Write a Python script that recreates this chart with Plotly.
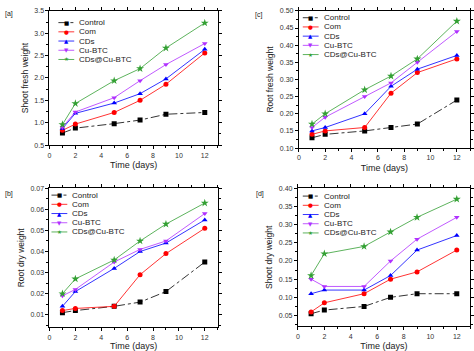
import plotly.graph_objects as go

days = [1, 2, 5, 7, 9, 12]
series_names = ["Control", "Com", "CDs", "Cu-BTC", "CDs@Cu-BTC"]

# [a] Shoot fresh weight
shoot_fresh = [
    [0.77, 0.88, 0.98, 1.06, 1.19, 1.23],
    [0.83, 0.97, 1.23, 1.50, 1.86, 2.56],
    [0.87, 1.21, 1.44, 1.65, 1.98, 2.64],
    [0.90, 1.24, 1.56, 1.94, 2.30, 2.77],
    [0.96, 1.43, 1.94, 2.21, 2.67, 3.23],
]
# [c] Root fresh weight
root_fresh = [
    [0.13, 0.14, 0.15, 0.16, 0.17, 0.24],
    [0.14, 0.15, 0.16, 0.26, 0.32, 0.36],
    [0.15, 0.16, 0.20, 0.28, 0.33, 0.37],
    [0.16, 0.19, 0.25, 0.29, 0.35, 0.44],
    [0.17, 0.20, 0.27, 0.31, 0.36, 0.47],
]
# [b] Root dry weight
root_dry = [
    [0.011, 0.012, 0.014, 0.016, 0.021, 0.035],
    [0.012, 0.013, 0.014, 0.029, 0.039, 0.051],
    [0.014, 0.021, 0.032, 0.040, 0.044, 0.055],
    [0.019, 0.022, 0.035, 0.041, 0.045, 0.058],
    [0.020, 0.027, 0.036, 0.045, 0.053, 0.063],
]
# [d] Shoot dry weight
shoot_dry = [
    [0.055, 0.065, 0.075, 0.100, 0.110, 0.110],
    [0.060, 0.085, 0.110, 0.150, 0.170, 0.230],
    [0.110, 0.120, 0.120, 0.160, 0.230, 0.270],
    [0.150, 0.130, 0.130, 0.200, 0.260, 0.320],
    [0.160, 0.220, 0.240, 0.280, 0.320, 0.370],
]

colors = ["#000000", "#ff0000", "#0000ff", "#b030ff", "#33a033"]
symbols = ["square", "circle", "triangle-up", "triangle-down", "star"]
glyphs = ["\u25a0", "\u25cf", "\u25b2", "\u25bc", "\u2605"]
dashes = ["dashdot", "solid", "solid", "solid", "solid"]

FONT = "Arial, Liberation Sans, sans-serif"
W, H = 474, 351

panels = [
    # data, ytitle, yrange, dtick, fmt, xdom(px), ydom(px), label, labelpos, legend top-left(px)
    (shoot_fresh, "Shoot fresh weight", [0.5, 3.5], 0.5, ".1f", (48, 218), (7, 144), "[a]", (1, 4), (57, 15)),
    (root_fresh, "Root fresh weight", [0.10, 0.50], 0.05, ".2f", (300, 473), (7, 147), "[c]", (254, 5), (304, 10)),
    (root_dry, "Root dry weight", [0.004, 0.07], 0.01, ".2f", (48, 218), (188, 330), "[b]", (1, 188), (50, 191)),
    (shoot_dry, "Shoot dry weight", [0.02, 0.40], 0.05, ".2f", (299, 473), (188, 329), "[d]", (255, 188), (304, 192)),
]

fig = go.Figure()
annotations = []
shapes = []

for k, (data, ytitle, yrange, dtick, fmt, xd, yd, label, lpos, lg) in enumerate(panels):
    idx = "" if k == 0 else str(k + 1)
    xa = "x" + idx
    ya = "y" + idx
    for i, name in enumerate(series_names):
        fig.add_trace(go.Scatter(
            x=days, y=data[i], mode="lines+markers", name=name,
            xaxis=xa, yaxis=ya, showlegend=False,
            line=dict(color=colors[i], width=0.8, dash=dashes[i]),
            marker=dict(symbol=symbols[i], size=5 if i != 4 else 6, color=colors[i]),
        ))
    axis_common = dict(
        showline=True, linecolor="black", linewidth=1, mirror="ticks",
        ticks="outside", ticklen=3, tickcolor="black", tickwidth=1,
        showgrid=False, zeroline=False,
        tickfont=dict(family=FONT, size=7, color="#333"),
    )
    fig.layout["xaxis" + idx] = dict(
        axis_common, domain=[xd[0] / W, xd[1] / W], range=[0, 13], dtick=2, tick0=0,
        anchor=ya,
        minor=dict(ticks="outside", ticklen=2, dtick=1, tickcolor="black"),
        title=dict(text="Time (days)", font=dict(family=FONT, size=9, color="#222"), standoff=4),
    )
    fig.layout["yaxis" + idx] = dict(
        axis_common, domain=[1 - yd[1] / H, 1 - yd[0] / H], range=yrange,
        dtick=dtick, tick0=0, tickformat=fmt, anchor=xa,
        minor=dict(ticks="outside", ticklen=2, dtick=dtick / 2, tickcolor="black"),
        title=dict(text=ytitle, font=dict(family=FONT, size=8.5, color="#222"), standoff=4),
    )
    annotations.append(dict(
        text=label, x=lpos[0] / W, y=1 - lpos[1] / H, xref="paper", yref="paper",
        xanchor="left", yanchor="top", showarrow=False,
        font=dict(family=FONT, size=7, color="#222"),
    ))
    # manual compact legend
    lx, ly = lg
    step = 9.4
    for i, name in enumerate(series_names):
        yy = 1 - (ly + i * step + 4) / H
        shapes.append(dict(
            type="line", xref="paper", yref="paper",
            x0=lx / W, x1=(lx + 16) / W, y0=yy, y1=yy,
            line=dict(color=colors[i], width=0.8, dash=dashes[i]),
        ))
        annotations.append(dict(
            text=glyphs[i], x=(lx + 8) / W, y=yy, xref="paper", yref="paper",
            xanchor="center", yanchor="middle", showarrow=False, borderpad=0,
            font=dict(family="DejaVu Sans", size=5.5, color=colors[i]),
        ))
        annotations.append(dict(
            text=name, x=(lx + 20) / W, y=yy, xref="paper", yref="paper",
            xanchor="left", yanchor="middle", showarrow=False, borderpad=0,
            font=dict(family=FONT, size=8, color="#222"),
        ))

fig.update_layout(
    width=W, height=H, margin=dict(l=0, r=0, t=0, b=0),
    paper_bgcolor="white", plot_bgcolor="white",
    annotations=annotations, shapes=shapes, showlegend=False,
)

fig.write_html("out.html")
